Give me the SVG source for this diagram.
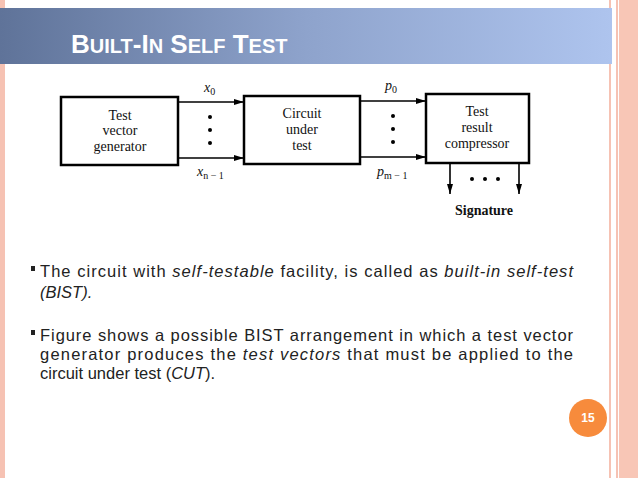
<svg xmlns="http://www.w3.org/2000/svg" width="638" height="478" viewBox="0 0 638 478">
<defs>
<linearGradient id="hg" x1="0" x2="1" y1="0" y2="0"><stop offset="0" stop-color="#5f7399"/><stop offset="0.5" stop-color="#8ea3cc"/><stop offset="1" stop-color="#aec4ee"/></linearGradient>
<marker id="ah" markerWidth="10" markerHeight="6" refX="10" refY="3" orient="auto" markerUnits="userSpaceOnUse"><path d="M0,0 L10,3 L0,6 z" fill="#000"/></marker>
<style>
.box{fill:#fff;stroke:#000;stroke-width:2.5}
.bt{font-family:"Liberation Serif",serif;font-size:14px;text-anchor:middle;fill:#111}
.ln{stroke:#000;stroke-width:1.6;fill:none;marker-end:url(#ah)}
.lb{font-family:"Liberation Serif",serif;font-style:italic;font-size:14px;fill:#111}
.sub{font-size:10px;font-style:normal}
.body{font-family:"Liberation Sans",Arial,sans-serif;font-size:16.5px;fill:#222}
.i{font-style:italic}
</style>
</defs>
<rect width="638" height="478" fill="#fff"/>
<rect x="0" y="0" width="5" height="478" fill="#f6c2b3"/>
<rect x="609" y="0" width="2" height="478" fill="#f6c2b3"/>
<rect x="616" y="0" width="2" height="478" fill="#f6c2b3"/>
<rect x="619" y="0" width="19" height="478" fill="#f8c6b6"/>
<rect x="0" y="8" width="612" height="56" fill="url(#hg)"/>
<text x="71" y="53" font-family="Liberation Sans,Arial,sans-serif" font-weight="bold" fill="#fff" font-size="26">B<tspan font-size="20">UILT</tspan>-I<tspan font-size="20">N</tspan> S<tspan font-size="20">ELF</tspan> T<tspan font-size="20">EST</tspan></text>
<g id="connectors">
<line class="ln" x1="178" y1="102" x2="244" y2="102"/>
<line class="ln" x1="178" y1="158" x2="244" y2="158"/>
<line class="ln" x1="360" y1="101" x2="426" y2="101"/>
<line class="ln" x1="360" y1="157" x2="426" y2="157"/>
<line class="ln" x1="450" y1="163" x2="450" y2="194"/>
<line class="ln" x1="519" y1="163" x2="519" y2="194"/>
<g fill="#000"><circle cx="210" cy="117" r="2"/><circle cx="210" cy="130" r="2"/><circle cx="210" cy="143" r="2"/>
<circle cx="393" cy="116" r="2"/><circle cx="393" cy="129" r="2"/><circle cx="393" cy="142" r="2"/>
<circle cx="472" cy="179" r="2"/><circle cx="485" cy="179" r="2"/><circle cx="498" cy="179" r="2"/></g>
<text class="lb" x="204" y="92">x<tspan class="sub" dy="3">0</tspan></text>
<text class="lb" x="197" y="176">x<tspan class="sub" dy="3">n − 1</tspan></text>
<text class="lb" x="385" y="90">p<tspan class="sub" dy="3">0</tspan></text>
<text class="lb" x="377" y="176">p<tspan class="sub" dy="3">m − 1</tspan></text>
<text class="bt" x="484" y="215" font-weight="bold" font-size="13">Signature</text>
</g>
<g id="tvg"><rect class="box" x="61" y="97" width="117" height="68"/>
<text class="bt" x="120" y="120">Test</text><text class="bt" x="120" y="135">vector</text><text class="bt" x="120" y="151">generator</text></g>
<g id="cut"><rect class="box" x="244" y="96" width="116" height="68"/>
<text class="bt" x="302" y="118">Circuit</text><text class="bt" x="302" y="134">under</text><text class="bt" x="302" y="150">test</text></g>
<g id="trc"><rect class="box" x="426" y="94" width="103" height="69"/>
<text class="bt" x="477" y="116">Test</text><text class="bt" x="477" y="132">result</text><text class="bt" x="477" y="148">compressor</text></g>
<g class="body">
<rect x="31" y="266" width="4" height="5" fill="#222"/>
<text x="40" y="277" textLength="533" lengthAdjust="spacing">The circuit with <tspan class="i">self-testable</tspan> facility, is called as <tspan class="i">built-in self-test</tspan></text>
<text x="40" y="298" class="i">(BIST).</text>
<rect x="31" y="330" width="4" height="5" fill="#222"/>
<text x="40" y="341" textLength="533" lengthAdjust="spacing">Figure shows a possible BIST arrangement in which a test vector</text>
<text x="40" y="360" textLength="533" lengthAdjust="spacing">generator produces the <tspan class="i">test vectors</tspan> that must be applied to the</text>
<text x="40" y="379">circuit under test (<tspan class="i">CUT</tspan>).</text>
</g>
<circle cx="588" cy="418" r="19" fill="#f78b3c"/>
<text x="588" y="422" text-anchor="middle" font-family="Liberation Sans,Arial,sans-serif" font-weight="bold" font-size="12" fill="#fff">15</text>
</svg>
